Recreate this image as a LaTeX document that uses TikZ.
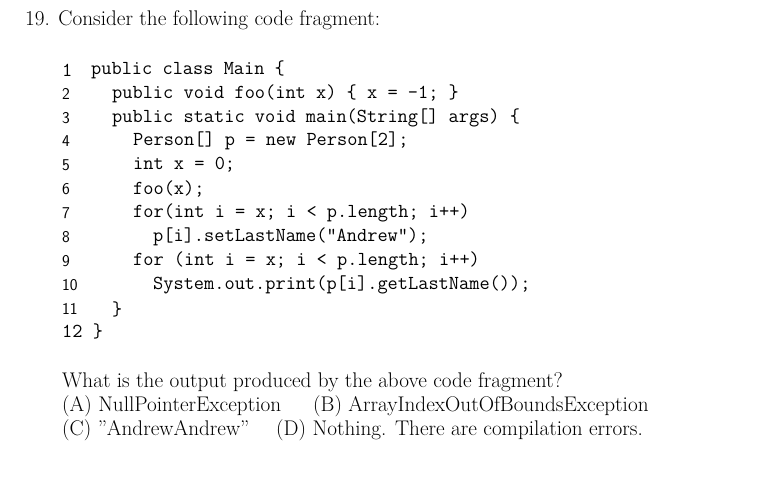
\documentclass[tikz,border=0pt]{standalone}
\begin{document}
\begin{tikzpicture}[x=1pt,y=-1pt,
  txt/.style={anchor=west,inner sep=0pt,font=\fontsize{21.2}{24}\selectfont},
  code/.style={anchor=west,inner sep=0pt,font=\fontsize{19.8}{22}\ttfamily},
  num/.style={anchor=west,inner sep=0pt,font=\fontsize{16.5}{19}\sffamily},
  numtt/.style={anchor=west,inner sep=0pt,font=\fontsize{19.8}{22}\ttfamily}]
\useasboundingbox (0,0) rectangle (780,492);
\node[txt] (title) at (25,20) {19. Consider the following code fragment:};
\node[numtt] (n1) at (62,70) {1};
\node[num] (n2) at (62,94) {2};
\node[num] (n3) at (62,118) {3};
\node[num] (n4) at (62,141) {4};
\node[num] (n5) at (62,165) {5};
\node[num] (n6) at (62,189) {6};
\node[num] (n7) at (62,213) {7};
\node[num] (n8) at (62,237) {8};
\node[num] (n9) at (62,261) {9};
\node[num] (n10) at (62,285) {10};
\node[num] (n11) at (62,309) {11};
\node[numtt] (n12) at (62,331) {12 \}};
\node[code] (c1) at (91,70) {public class Main \{};
\node[code] (c2) at (112,94) {public void foo(int x) \{ x = -1; \}};
\node[code] (c3) at (112,118) {public static void main(String[] args) \{};
\node[code] (c4) at (133,141) {Person[] p = new Person[2];};
\node[code] (c5) at (133,165) {int x = 0;};
\node[code] (c6) at (133,189) {foo(x);};
\node[code] (c7) at (133,213) {for(int i = x; i < p.length; i++)};
\node[code] (c8) at (153,237) {p[i].setLastName("Andrew");};
\node[code] (c9) at (133,261) {for (int i = x; i < p.length; i++)};
\node[code] (c10) at (153,285) {System.out.print(p[i].getLastName());};
\node[code] (c11) at (112,309) {\}};
\node[txt] (q) at (62,382) {What is the output produced by the above code fragment?};
\node[txt] (a) at (62,406) {(A) NullPointerException};
\node[txt] (b) at (313,406) {(B) ArrayIndexOutOfBoundsException};
\node[txt] (c) at (62,430) {(C) "AndrewAndrew"};
\node[txt] (d) at (276,430) {(D) Nothing. There are compilation errors.};
\end{tikzpicture}
\end{document}
